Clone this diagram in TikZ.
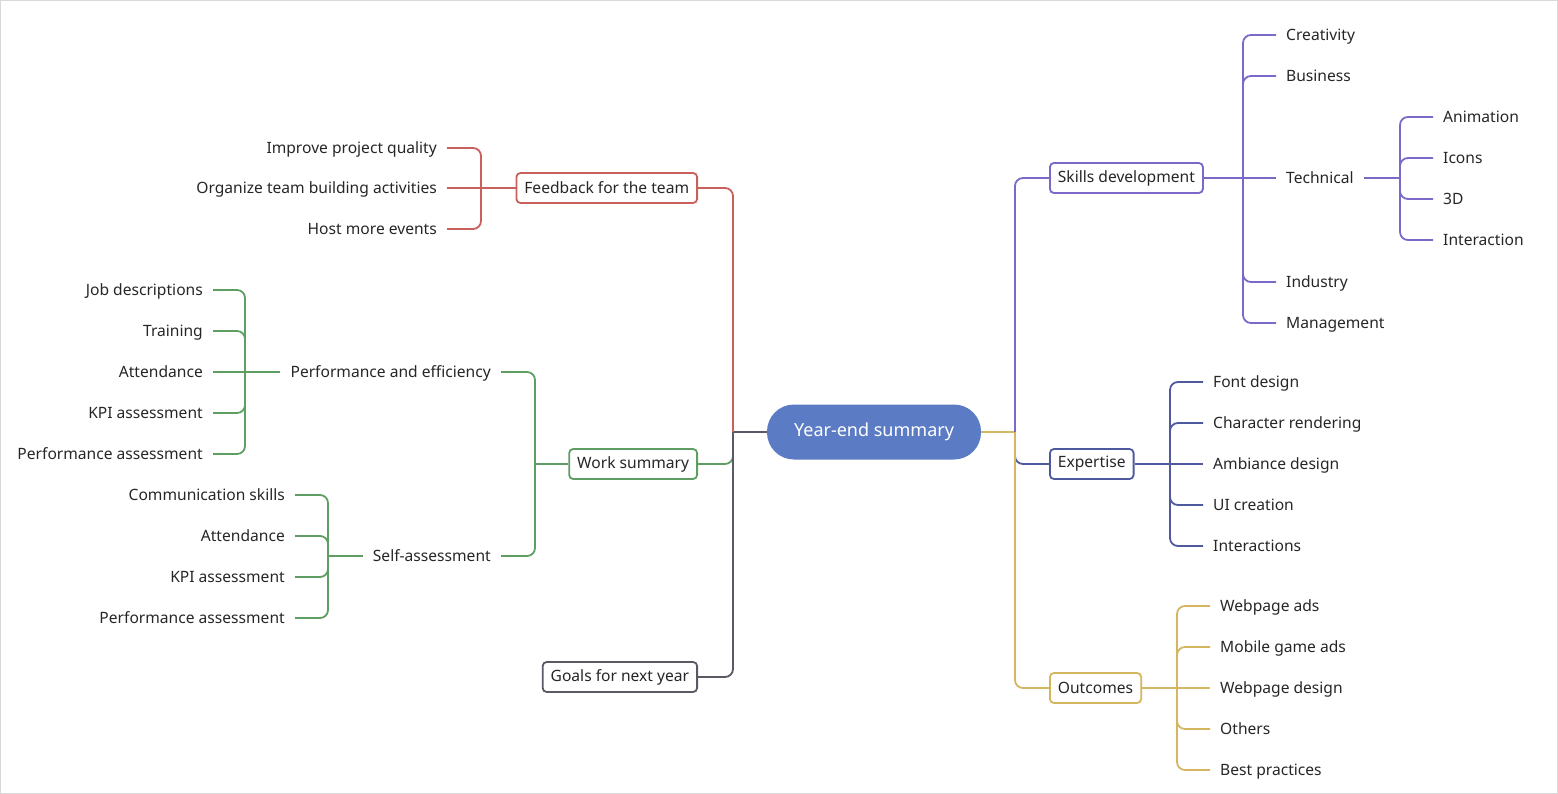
\documentclass[tikz,border=0pt]{standalone}
\usepackage{fontspec}
\setmainfont{Noto Sans}
\begin{document}
\definecolor{cred}{HTML}{C8605C}
\definecolor{cgreen}{HTML}{5E9E62}
\definecolor{cgray}{HTML}{5A5A64}
\definecolor{cpurple}{HTML}{7B68C8}
\definecolor{cblue}{HTML}{4F5A9E}
\definecolor{cgold}{HTML}{D4B560}
\definecolor{ccenter}{HTML}{5B7BC4}
\begin{tikzpicture}[x=1pt,y=-1pt,
  txt/.style={font=\fontsize{15.6}{18}\selectfont, text=black!85, inner xsep=10pt, inner ysep=2pt, text height=13pt, text depth=2pt},
  lt/.style={txt, anchor=east},
  rt/.style={txt, anchor=west},
  box/.style={font=\fontsize{15.6}{18}\selectfont, text=black!85, draw=#1, line width=1.8pt, rounded corners=4pt, minimum height=30pt, inner xsep=8pt, fill=white},
  con/.style={draw=#1, line width=1.8pt, rounded corners=8pt},
  st/.style={draw=#1, line width=1.8pt}]
\draw[black!15, line width=1pt] (0.5,0.5) rectangle (1557.5,793.5);
\useasboundingbox (0,0) rectangle (1558,794);
\node[fill=ccenter, text=white, rounded corners=27pt, minimum width=214pt, minimum height=55pt, font=\fontsize{18}{20}\selectfont] (c) at (874,432) {Year-end summary};
% left boxes
\node[box=cred, anchor=east] (fb) at (698,188) {Feedback for the team};
\node[box=cgreen, anchor=east] (ws) at (698,464) {Work summary};
\node[box=cgray, anchor=east] (gl) at (698,677) {Goals for next year};
\coordinate (lj) at (733,432);
\draw[st=cgray] (c.west) -- (lj);
\draw[con=cred] (lj) |- (fb.east);
\draw[con=cgreen] (lj) |- (ws.east);
\draw[con=cgray] (lj) |- (gl.east);
% feedback children
\node[lt] (f1) at (447,148) {Improve project quality};
\node[lt] (f2) at (447,188) {Organize team building activities};
\node[lt] (f3) at (447,229) {Host more events};
\coordinate (fbj) at (481,188);
\draw[st=cred] (fb.west) -- (fbj) -- (f2.east);
\foreach \n in {f1,f3} \draw[con=cred] (fbj) |- (\n.east);
% work summary
\node[lt] (pe) at (501,372) {Performance and efficiency};
\node[lt] (sa) at (501,556) {Self-assessment};
\coordinate (wsj) at (535,464);
\draw[st=cgreen] (ws.west) -- (wsj);
\foreach \n in {pe,sa} \draw[con=cgreen] (wsj) |- (\n.east);
\node[lt] (p1) at (213,290) {Job descriptions};
\node[lt] (p2) at (213,331) {Training};
\node[lt] (p3) at (213,372) {Attendance};
\node[lt] (p4) at (213,413) {KPI assessment};
\node[lt] (p5) at (213,454) {Performance assessment};
\coordinate (pej) at (245,372);
\draw[st=cgreen] (pe.west) -- (pej) -- (p3.east);
\foreach \n in {p1,p2,p4,p5} \draw[con=cgreen] (pej) |- (\n.east);
\node[lt] (s1) at (295,495) {Communication skills};
\node[lt] (s2) at (295,536) {Attendance};
\node[lt] (s3) at (295,577) {KPI assessment};
\node[lt] (s4) at (295,618) {Performance assessment};
\coordinate (saj) at (328,556);
\draw[st=cgreen] (sa.west) -- (saj);
\foreach \n in {s1,s2,s3,s4} \draw[con=cgreen] (saj) |- (\n.east);
% right
\node[box=cpurple, anchor=west] (sk) at (1049,178) {Skills development};
\node[box=cblue, anchor=west] (ex) at (1049,464) {Expertise};
\node[box=cgold, anchor=west] (oc) at (1049,688) {Outcomes};
\coordinate (rj) at (1015,432);
\draw[st=cgold] (c.east) -- (rj);
\draw[con=cpurple] (rj) |- (sk.west);
\draw[con=cblue] (rj) |- (ex.west);
\draw[con=cgold] (rj) |- (oc.west);
\node[rt] (k1) at (1276,35) {Creativity};
\node[rt] (k2) at (1276,76) {Business};
\node[rt] (k3) at (1276,178) {Technical};
\node[rt] (k4) at (1276,282) {Industry};
\node[rt] (k5) at (1276,323) {Management};
\coordinate (skj) at (1243,178);
\draw[st=cpurple] (sk.east) -- (skj) -- (k3.west);
\foreach \n in {k1,k2,k4,k5} \draw[con=cpurple] (skj) |- (\n.west);
\node[rt] (t1) at (1433,117) {Animation};
\node[rt] (t2) at (1433,158) {Icons};
\node[rt] (t3) at (1433,199) {3D};
\node[rt] (t4) at (1433,240) {Interaction};
\coordinate (tj) at (1400,178);
\draw[st=cpurple] (k3.east) -- (tj);
\foreach \n in {t1,t2,t3,t4} \draw[con=cpurple] (tj) |- (\n.west);
\node[rt] (e1) at (1203,382) {Font design};
\node[rt] (e2) at (1203,423) {Character rendering};
\node[rt] (e3) at (1203,464) {Ambiance design};
\node[rt] (e4) at (1203,505) {UI creation};
\node[rt] (e5) at (1203,546) {Interactions};
\coordinate (exj) at (1170,464);
\draw[st=cblue] (ex.east) -- (exj) -- (e3.west);
\foreach \n in {e1,e2,e4,e5} \draw[con=cblue] (exj) |- (\n.west);
\node[rt] (o1) at (1210,606) {Webpage ads};
\node[rt] (o2) at (1210,647) {Mobile game ads};
\node[rt] (o3) at (1210,688) {Webpage design};
\node[rt] (o4) at (1210,729) {Others};
\node[rt] (o5) at (1210,770) {Best practices};
\coordinate (ocj) at (1177,688);
\draw[st=cgold] (oc.east) -- (ocj) -- (o3.west);
\foreach \n in {o1,o2,o4,o5} \draw[con=cgold] (ocj) |- (\n.west);
\end{tikzpicture}
\end{document}
